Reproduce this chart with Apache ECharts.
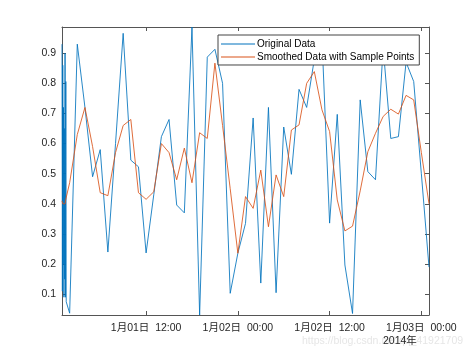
<!DOCTYPE html>
<html>
<head>
<meta charset="utf-8">
<script src="https://cdn.jsdelivr.net/npm/echarts@6/dist/echarts.min.js"></script>
<style>html,body{margin:0;padding:0;background:#fff;}#c{width:474px;height:355px;}</style>
</head>
<body>
<div id="c"></div>
<script>
// Sample times (dense cluster in the first hour, then hourly)
var times = [
  '2014-01-01 01:00','2014-01-01 01:03','2014-01-01 01:06','2014-01-01 01:09','2014-01-01 01:12','2014-01-01 01:15',
  '2014-01-01 01:18','2014-01-01 01:21','2014-01-01 01:24','2014-01-01 01:27','2014-01-01 01:30','2014-01-01 01:33',
  '2014-01-01 02:00','2014-01-01 03:00','2014-01-01 04:00','2014-01-01 05:00','2014-01-01 06:00','2014-01-01 07:00',
  '2014-01-01 08:00','2014-01-01 09:00','2014-01-01 10:00','2014-01-01 11:00','2014-01-01 12:00','2014-01-01 13:00',
  '2014-01-01 14:00','2014-01-01 15:00','2014-01-01 16:00','2014-01-01 17:00','2014-01-01 18:00','2014-01-01 19:00',
  '2014-01-01 20:00','2014-01-01 21:00','2014-01-01 22:00','2014-01-01 23:00','2014-01-02 00:00','2014-01-02 01:00',
  '2014-01-02 02:00','2014-01-02 03:00','2014-01-02 04:00','2014-01-02 05:00','2014-01-02 06:00','2014-01-02 07:00',
  '2014-01-02 08:00','2014-01-02 09:00','2014-01-02 10:00','2014-01-02 11:00','2014-01-02 12:00','2014-01-02 13:00',
  '2014-01-02 14:00','2014-01-02 15:00','2014-01-02 16:00','2014-01-02 17:00','2014-01-02 18:00','2014-01-02 19:00',
  '2014-01-02 20:00','2014-01-02 21:00','2014-01-02 22:00','2014-01-02 23:00','2014-01-03 00:00','2014-01-03 01:00'
];
var originalValues = [
  0.93,0.11,0.86,0.20,0.72,0.09,0.65,0.15,0.90,0.09,0.806,0.075,
  0.037,0.93,0.72,0.49,0.58,0.24,
  0.60,0.966,0.545,0.523,0.237,0.43,
  0.623,0.68,0.396,0.37,0.987,0.031,
  0.887,0.913,0.80,0.103,0.236,0.335,
  0.685,0.137,0.72,0.105,0.655,0.498,
  0.78,0.72,0.88,0.95,0.336,0.697,
  0.197,0.036,0.745,0.507,0.48,0.92,
  0.617,0.623,0.87,0.806,0.50,0.19
];
var smoothedValues = [
  0.41,0.41,0.40,0.40,0.40,0.40,0.40,0.40,0.40,0.41,0.41,0.41,
  0.47,0.63,0.72,0.59,0.437,0.427,
  0.57,0.66,0.68,0.437,0.415,0.44,
  0.60,0.57,0.48,0.585,0.47,0.636,
  0.617,0.867,0.66,0.45,0.236,0.424,
  0.385,0.512,0.324,0.496,0.424,0.645,
  0.662,0.80,0.839,0.712,0.64,0.413,
  0.31,0.326,0.443,0.573,0.634,0.69,
  0.714,0.698,0.76,0.745,0.57,0.40
];
var xTickTimes = ['2014-01-01 12:00','2014-01-02 00:00','2014-01-02 12:00','2014-01-03 00:00'];
var xTickLabels = ['1月01日  12:00','1月02日  00:00','1月02日  12:00','1月03日  00:00'];
var yTicks = [0.1,0.2,0.3,0.4,0.5,0.6,0.7,0.8,0.9];
var yLimits = [0.031, 0.987];
var yearLabel = '2014年';
var seriesNames = ['Original Data','Smoothed Data with Sample Points'];

function ts(s){
  var p = s.split(/[- :]/).map(Number);
  return new Date(p[0], p[1]-1, p[2], p[3], p[4]).getTime();
}
var tickTs = xTickTimes.map(ts);
var xMin = ts(times[0]), xMax = ts(times[times.length-1]);
function xLabel(v){
  for (var i=0;i<tickTs.length;i++){ if (Math.abs(tickTs[i]-v) < 1000) return xTickLabels[i]; }
  return '';
}
var FONT = '"Liberation Sans", Arial, "Noto Sans CJK SC", sans-serif';
var txt = '#262626', axc = '#555555';

var chart = echarts.init(document.getElementById('c'), null, {renderer:'canvas'});
var axBase = {
  axisLine:{show:true, onZero:false, lineStyle:{color:axc, width:1}},
  splitLine:{show:false}
};
chart.setOption({
  animation:false,
  backgroundColor:'#fff',
  grid:{left:62, right:45, top:27, bottom:40, containLabel:false},
  xAxis:[
    Object.assign({type:'value', min:xMin, max:xMax, position:'bottom', scale:true,
      axisTick:{show:true, inside:true, length:4, customValues:tickTs, lineStyle:{color:axc}},
      axisLabel:{show:true, customValues:tickTs, formatter:function(v){return xLabel(v);},
        color:txt, fontSize:10.5, fontFamily:FONT, margin:8, hideOverlap:false}
    }, axBase),
    Object.assign({type:'value', min:xMin, max:xMax, position:'top', scale:true,
      axisTick:{show:true, inside:true, length:4, customValues:tickTs, lineStyle:{color:axc}},
      axisLabel:{show:false}
    }, axBase)
  ],
  yAxis:[
    Object.assign({type:'value', min:yLimits[0], max:yLimits[1], position:'left',
      axisTick:{show:true, inside:true, length:4, customValues:yTicks, lineStyle:{color:axc}},
      axisLabel:{show:true, customValues:yTicks, formatter:function(v){return v.toFixed(1);},
        color:txt, fontSize:10.5, fontFamily:FONT, margin:6}
    }, axBase),
    Object.assign({type:'value', min:yLimits[0], max:yLimits[1], position:'right',
      axisTick:{show:true, inside:true, length:4, customValues:yTicks, lineStyle:{color:axc}},
      axisLabel:{show:false}
    }, axBase)
  ],
  legend:{
    show:true, orient:'vertical', left:218, top:35,
    padding:[4,5,3,3], itemGap:3, itemWidth:34, itemHeight:11,
    backgroundColor:'#fff', borderColor:'#444', borderWidth:1, borderRadius:0,
    textStyle:{color:'#000', fontSize:10, fontFamily:FONT, padding:[0,0,0,-3]},
    data:[{name:seriesNames[0], icon:'path://M0,0 L34,0 L34,1 L0,1 Z'},{name:seriesNames[1], icon:'path://M0,0 L34,0 L34,1 L0,1 Z'}]
  },
  series:[
    {name:seriesNames[0], type:'line', xAxisIndex:0, yAxisIndex:0, symbol:'none', showSymbol:false,
      lineStyle:{color:'#0072BD', width:0.85}, itemStyle:{color:'#0072BD'},
      data: times.map(function(t,i){return [ts(t), originalValues[i]];}), z:2},
    {name:seriesNames[1], type:'line', xAxisIndex:0, yAxisIndex:0, symbol:'none', showSymbol:false,
      lineStyle:{color:'#D95319', width:0.85}, itemStyle:{color:'#D95319'},
      data: times.map(function(t,i){return [ts(t), smoothedValues[i]];}), z:3}
  ],
  graphic:[
    {type:'text', left:302, top:336, z:1, style:{text:'https://blog.csdn.net/qq_41921709', fill:'#e6e6e6', font:'10.5px '+FONT}},
    {type:'text', left:383, top:336, z:2, style:{text:yearLabel, fill:txt, font:'10.5px '+FONT}}
  ]
});
</script>
</body>
</html>
